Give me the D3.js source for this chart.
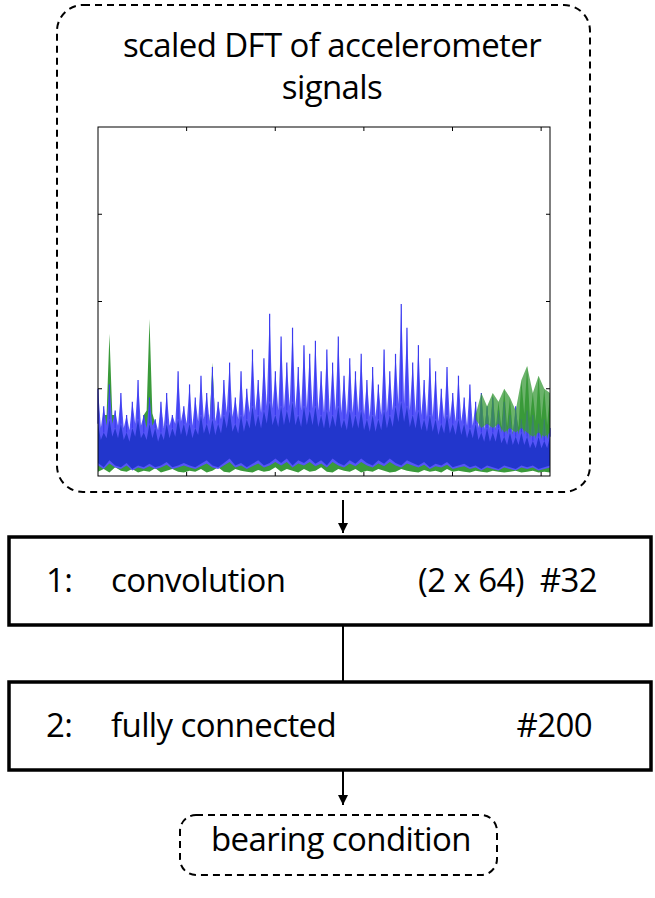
<!DOCTYPE html>
<html><head><meta charset="utf-8">
<script src="https://cdn.jsdelivr.net/npm/d3@7"></script>
<style>body{margin:0;background:#fff}text{font-family:"Open Sans",sans-serif;fill:#000}</style>
</head><body>
<svg width="655" height="898"></svg>
<script>
// envelope per frequency bin (80 bins)
const blueHi = [1.0,0.8,1.05,0.75,0.95,0.7,0.85,1.1,0.7,0.9,0.65,0.85,0.95,0.7,1.2,0.8,
  1.05,0.9,1.15,0.95,1.25,0.85,1.1,1.3,0.9,1.2,1.0,1.45,1.1,1.35,1.86,1.2,
  1.6,1.3,1.7,1.25,1.5,1.4,1.55,1.2,1.45,1.3,1.6,1.15,1.35,1.2,1.4,1.1,
  1.25,1.05,1.45,1.2,1.4,1.97,1.7,1.3,1.5,1.1,1.35,1.2,1.0,1.25,0.95,1.15,
  0.9,1.05,0.85,0.95,0.8,0.9,0.75,0.85,0.7,0.8,0.65,0.75,0.7,0.6,0.65,0.55];
const blueCore = [0.6,0.5,0.65,0.55,0.6,0.5,0.55,0.65,0.5,0.6,0.55,0.5,0.6,0.55,0.65,0.6,
  0.6,0.55,0.7,0.6,0.65,0.6,0.7,0.75,0.6,0.7,0.65,0.8,0.7,0.75,0.85,0.7,
  0.8,0.75,0.85,0.7,0.8,0.75,0.8,0.7,0.75,0.7,0.8,0.65,0.75,0.7,0.75,0.65,
  0.7,0.65,0.75,0.7,0.8,0.85,0.8,0.7,0.75,0.65,0.7,0.65,0.6,0.7,0.6,0.65,
  0.6,0.55,0.6,0.5,0.55,0.5,0.55,0.45,0.5,0.45,0.5,0.45,0.4,0.45,0.4,0.45];
const blueLo = [0.15,0.1,0.18,0.12,0.1,0.15,0.08,0.12,0.1,0.14,0.1,0.12,0.16,0.1,0.12,0.15,
  0.12,0.1,0.14,0.18,0.12,0.1,0.15,0.2,0.12,0.15,0.1,0.14,0.18,0.12,0.15,0.2,
  0.15,0.2,0.12,0.18,0.15,0.2,0.14,0.18,0.12,0.2,0.15,0.12,0.18,0.14,0.2,0.15,
  0.12,0.18,0.14,0.2,0.15,0.12,0.18,0.15,0.12,0.16,0.1,0.14,0.12,0.16,0.1,0.12,
  0.14,0.1,0.12,0.08,0.12,0.1,0.08,0.12,0.1,0.08,0.12,0.1,0.12,0.08,0.1,0.12];
const greenHi = [0.9,0.7,1.63,0.7,0.85,0.65,0.8,0.9,0.7,1.8,0.6,0.8,0.85,0.65,0.9,0.7,
  0.8,0.7,0.9,0.75,1.3,0.7,0.8,0.9,0.7,0.85,0.75,0.9,0.8,0.85,0.9,0.75,
  0.85,0.8,0.9,0.75,0.85,0.8,0.85,0.75,0.8,0.75,0.85,0.7,0.8,0.75,0.8,0.7,
  0.75,0.7,0.8,0.75,0.85,0.9,0.85,0.75,0.8,0.7,0.75,0.7,0.65,0.75,0.7,0.9,
  0.75,0.8,0.7,0.95,0.8,0.95,0.85,1.0,0.9,0.75,1.1,1.26,0.95,1.15,1.0,0.95];
const greenLo = [0.05,0.08,0.04,0.1,0.06,0.05,0.08,0.04,0.06,0.05,0.09,0.04,0.06,0.08,0.05,0.04,
  0.06,0.05,0.08,0.04,0.06,0.1,0.05,0.04,0.08,0.06,0.05,0.04,0.07,0.05,0.06,0.1,
  0.05,0.08,0.06,0.04,0.08,0.05,0.06,0.1,0.05,0.04,0.08,0.06,0.05,0.08,0.04,0.06,
  0.05,0.08,0.06,0.04,0.05,0.08,0.06,0.05,0.04,0.07,0.05,0.06,0.04,0.08,0.05,0.06,
  0.05,0.04,0.06,0.05,0.04,0.06,0.05,0.04,0.05,0.06,0.04,0.05,0.06,0.04,0.05,0.04];
const xTicks = [1,2,3,4,5];
const yTicks = [1,2,3];

const svg = d3.select("svg");
const x = d3.scaleLinear().domain([0, 5.1]).range([98, 550]);
const y = d3.scaleLinear().domain([0, 4]).range([476, 127]);
const n = blueHi.length;
const bx = i => x(i * 5.1 / (n - 1));

// outer dashed box + title
svg.append("rect").attr("x", 57).attr("y", 5).attr("width", 533).attr("height", 487)
  .attr("rx", 26).attr("fill", "none").attr("stroke", "#000").attr("stroke-width", 2)
  .attr("stroke-dasharray", "7,5");
svg.append("text").attr("x", 332).attr("y", 57).attr("text-anchor", "middle")
  .attr("font-size", 33).attr("letter-spacing", -0.6).text("scaled DFT of accelerometer");
svg.append("text").attr("x", 332).attr("y", 99).attr("text-anchor", "middle")
  .attr("font-size", 33).attr("letter-spacing", -0.6).text("signals");

// spiky band: peaks at each bin, dips down toward the floor between bins
function spiky(hi, floor, lo) {
  const top = [], bot = [];
  for (let i = 0; i < n; i++) {
    top.push([bx(i), y(hi[i])]);
    if (i < n - 1) top.push([(bx(i) + bx(i + 1)) / 2, y((floor[i] + floor[i + 1]) / 2)]);
    bot.push([bx(i), y(lo[i])]);
  }
  return "M" + top.map(p => p.join(",")).join("L") + "L" + bot.reverse().map(p => p.join(",")).join("L") + "Z";
}
svg.append("path").attr("d", spiky(greenHi, greenHi.map(v => v * 0.6), greenLo)).attr("fill", "#3a9a3a");
svg.append("path").attr("d", spiky(blueHi, blueCore, blueLo.map(v => v * 0.8))).attr("fill", "#5555f8");
svg.append("path").attr("d", spiky(blueCore, blueCore.map(v => v * 0.75), blueLo)).attr("fill", "#2236cc");
// thin spikes per bin
svg.selectAll(".spk").data(blueHi).enter().append("line").attr("class", "spk")
  .attr("x1", (d, i) => bx(i)).attr("x2", (d, i) => bx(i))
  .attr("y1", (d, i) => y(blueCore[i])).attr("y2", d => y(d))
  .attr("stroke", "#3b3bf0").attr("stroke-width", 1.2);
// green shows through at the right end
svg.append("path").attr("d", (() => {
  const idx = d3.range(66, n);
  const top = idx.map(i => [bx(i), y(greenHi[i])]);
  const bot = idx.map(i => [bx(i), y(blueCore[i] + 0.05)]).reverse();
  return "M" + top.concat(bot).map(p => p.join(",")).join("L") + "Z";
})()).attr("fill", "#3a9a3a").attr("opacity", 0.75);

const plot = svg.append("g");
plot.append("rect").attr("x", 98).attr("y", 127).attr("width", 452).attr("height", 349)
  .attr("fill", "none").attr("stroke", "#000").attr("stroke-width", 1);
xTicks.forEach(t => {
  plot.append("line").attr("x1", x(t)).attr("x2", x(t)).attr("y1", 476).attr("y2", 472).attr("stroke", "#000");
  plot.append("line").attr("x1", x(t)).attr("x2", x(t)).attr("y1", 127).attr("y2", 131).attr("stroke", "#000");
});
yTicks.forEach(t => {
  plot.append("line").attr("x1", 98).attr("x2", 102).attr("y1", y(t)).attr("y2", y(t)).attr("stroke", "#000");
  plot.append("line").attr("x1", 550).attr("x2", 546).attr("y1", y(t)).attr("y2", y(t)).attr("stroke", "#000");
});

// arrows
svg.append("defs").append("marker").attr("id", "ah").attr("viewBox", "0 0 10 10")
  .attr("refX", 10).attr("refY", 5).attr("markerWidth", 10).attr("markerHeight", 11)
  .attr("markerUnits", "userSpaceOnUse").attr("orient", "auto")
  .append("path").attr("d", "M0,0L10,5L0,10z").attr("fill", "#000");
const link = (y1, y2, arrow) => {
  const l = svg.append("line").attr("x1", 343).attr("x2", 343).attr("y1", y1).attr("y2", y2)
    .attr("stroke", "#000").attr("stroke-width", 2);
  if (arrow) l.attr("marker-end", "url(#ah)");
};
link(500, 533, true);
link(625, 682, false);
link(770, 805, true);

// layer boxes
const layers = [
  {n: "1:", name: "convolution", info: "(2 x 64)  #32", y: 537, right: 597},
  {n: "2:", name: "fully connected", info: "#200", y: 682, right: 592}
];
layers.forEach(l => {
  svg.append("rect").attr("x", 9).attr("y", l.y).attr("width", 642).attr("height", 88)
    .attr("fill", "none").attr("stroke", "#000").attr("stroke-width", 3.5);
  const t = (xx, s, anchor) => svg.append("text").attr("x", xx).attr("y", l.y + 55)
    .attr("font-size", 33).attr("letter-spacing", -0.6).attr("text-anchor", anchor)
    .style("white-space", "pre").text(s);
  t(46, l.n, "start");
  t(111, l.name, "start");
  t(l.right, l.info, "end");
});

// output
svg.append("rect").attr("x", 180).attr("y", 815).attr("width", 317).attr("height", 60)
  .attr("rx", 16).attr("fill", "none").attr("stroke", "#000").attr("stroke-width", 2)
  .attr("stroke-dasharray", "7,5");
svg.append("text").attr("x", 341).attr("y", 851).attr("text-anchor", "middle")
  .attr("font-size", 33).attr("letter-spacing", -0.6).text("bearing condition");
</script>
</body></html>
